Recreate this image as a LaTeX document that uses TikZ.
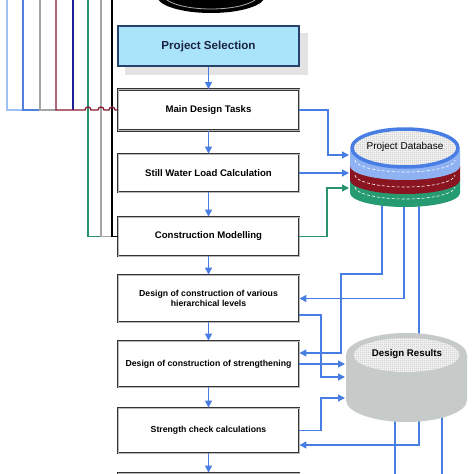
\documentclass[tikz,border=0pt]{standalone}
\usepackage{fontspec}
\setmainfont{Liberation Sans}
\usetikzlibrary{arrows.meta,patterns.meta}
\definecolor{cblue}{RGB}{72,126,228}
\definecolor{lblue}{RGB}{158,192,242}
\definecolor{mblue}{RGB}{80,128,224}
\definecolor{lgray}{RGB}{165,165,165}
\definecolor{dred}{RGB}{135,26,46}
\definecolor{dnavy}{RGB}{30,30,150}
\definecolor{cgreen}{RGB}{40,145,112}
\definecolor{psfill}{RGB}{170,228,251}
\definecolor{psdraw}{RGB}{40,66,110}
\definecolor{pstext}{RGB}{26,36,64}
\definecolor{dbl}{RGB}{143,178,242}
\definecolor{dbr}{RGB}{138,20,32}
\definecolor{dbg}{RGB}{38,155,114}
\definecolor{drgray}{RGB}{198,203,202}
\tikzdeclarepattern{name=fdots, type=uncolored,
  bounding box={(0pt,0pt) and (2.2pt,2.2pt)}, tile size={(2.2pt,2.2pt)},
  code={\fill (1.1pt,1.1pt) circle[radius=0.5pt];}}
\begin{document}
\begin{tikzpicture}[x=1pt,y=-1pt,
  box/.style={draw=black!80, double=gray!55, double distance=0.7pt, line width=0.9pt,
    fill=white, minimum width=181pt, inner sep=0pt, align=center,
    font=\bfseries\fontsize{8.7}{10.5}\selectfont},
  bigtext/.style={font=\bfseries\fontsize{9.6}{11}\selectfont},
  bl/.style={draw=cblue, line width=1.3pt},
  barr/.style={bl, -{Triangle[length=7pt,width=7pt]}},
  garr/.style={draw=cgreen, line width=1.3pt, -{Triangle[length=7pt,width=7pt]}},
  lline/.style={line width=1.1pt},
  jdot/.style={fill=cblue},
  dbdash/.style={draw=white, line width=0.6pt, dash pattern=on 3pt off 2pt},
  dotfill/.style={preaction={fill=gray!10}, pattern=fdots, pattern color=black!55}]
\clip (0,0) rectangle (474,474);
\fill[white] (0,0) rectangle (474,474);

% top disk
\fill[black] (211,-4) ellipse[x radius=54pt, y radius=17pt];
\draw[gray!65, line width=0.8pt] (211,-6) ellipse[x radius=48pt, y radius=15pt];

% project selection shadow + box
\fill[gray!22] (125,33) rectangle (308,75);
\node[draw=psdraw, line width=1.4pt, fill=psfill, minimum width=181pt, minimum height=40pt,
  text=pstext, font=\bfseries\fontsize{11.6}{13}\selectfont] (ps) at (208.5,46) {Project Selection};

% process boxes
\node[box, bigtext, minimum height=41pt] (mdt) at (208.5,110) {Main Design Tasks};
\node[box, bigtext, minimum height=38pt] (sw) at (208.5,173) {Still Water Load Calculation};
\node[box, bigtext, minimum height=39pt] (cm) at (208.5,236.5) {Construction Modelling};
\node[box, minimum height=47pt] (dh) at (208.5,298.5) {Design of construction of various\\hierarchical levels};
\node[box, minimum height=46pt] (ds) at (208.5,364) {Design of construction of strengthening};
\node[box, minimum height=45pt] (sc) at (208.5,430.5) {Strength check calculations};
\node[box, minimum height=48pt] (last) at (208.5,497) {};

% vertical flow arrows
\draw[barr] (ps.south) -- (mdt.north);
\draw[barr] (mdt.south) -- (sw.north);
\draw[barr] (sw.south) -- (cm.north);
\draw[barr] (cm.south) -- (dh.north);
\draw[barr] (dh.south) -- (ds.north);
\draw[barr] (ds.south) -- (sc.north);
\draw[barr] (sc.south) -- (last.north);

% left feedback lines
\coordinate (t1) at (7,0);
\coordinate (t2) at (23,0);
\coordinate (t3) at (40,0);
\coordinate (t4) at (56,0);
\coordinate (t5) at (73,0);
\coordinate (t6) at (88,0);
\coordinate (t7) at (101,0);
\coordinate (t8) at (112,0);
\draw[lline, lblue] (t1) |- (23,110);
\draw[lline, mblue] (t2) |- (40,110);
\draw[lline, lgray] (t3) |- (56,110);
\draw[lline, cgreen] (t6) |- (101,236.5);
\draw[lline, lgray] (t7) |- (112,236.5);
\draw[line width=1.8pt, black] (t8) |- (cm.west);
\draw[lline, dnavy] (t5) -- (73,110);
\draw[line width=1.3pt, dred] (t4) -- (56,110) -- (85,110)
  arc[start angle=180, end angle=0, radius=3pt] -- (98,110)
  arc[start angle=180, end angle=0, radius=3pt] -- (109,110)
  arc[start angle=180, end angle=0, radius=3pt] -- (mdt.west);

% database connection points
\coordinate (dbA) at (349,155);
\coordinate (dbB) at (349,173);
\coordinate (dbC) at (349,188);
\coordinate (dbD) at (382,200);
\coordinate (dbE) at (404,200);
\coordinate (dbF) at (419,200);
\coordinate (drA) at (345,377);
\coordinate (drB) at (345,364);
\coordinate (drC) at (345,398);
\coordinate (drD) at (419,415);
\coordinate (drE) at (395,415);
\coordinate (drF) at (442,415);
\coordinate (bE) at (395,474);
\coordinate (bF) at (442,474);
\coordinate (drT) at (419,340);

% arrows into project database
\draw[barr] (mdt.east) -- (328,110) |- (dbA);
\draw[barr] (sw.east) -- (dbB);
\draw[garr] (cm.east) -- (327,236.5) |- (dbC);

% lines out of project database
\draw[barr] (dbD) -- (382,274) -- (341,274) |- ([yshift=11pt]ds.east);
\draw[barr] (dbE) |- (dh.east);
\draw[bl] (dbF) -- (drT);
\fill[jdot] (341,298.5) circle[radius=1.7pt];

% arrows into design results
\draw[barr] ([yshift=-16.5pt]dh.east) -- (321,315) |- (drA);
\draw[barr] (ds.east) -- (drB);
\draw[barr] (sc.east) -- (321,430.5) |- (drC);
\fill[jdot] (321,353) circle[radius=1.7pt];

% lines out of design results
\draw[barr] (drD) |- ([yshift=-14.5pt]sc.east);
\draw[bl] (drE) -- (bE);
\draw[bl] (drF) -- (bF);
\fill[jdot] (395,445) circle[radius=1.7pt];

% project database stack
\fill[dbg] (350,180) -- (350,193) arc[start angle=180, end angle=360, x radius=55pt, y radius=14pt] -- (460,180) -- cycle;
\draw[dbdash] (355,187) arc[start angle=180, end angle=360, x radius=50pt, y radius=12pt];
\fill[dbr] (350,166) -- (350,180) arc[start angle=180, end angle=360, x radius=55pt, y radius=14pt] -- (460,166) -- cycle;
\draw[dbdash] (355,175) arc[start angle=180, end angle=360, x radius=50pt, y radius=12pt];
\fill[dbl] (350,150) -- (350,166) arc[start angle=180, end angle=360, x radius=55pt, y radius=14pt] -- (460,150) -- cycle;
\draw[dbdash] (355,160) arc[start angle=180, end angle=360, x radius=50pt, y radius=12pt];
\draw[cblue, line width=3.5pt, dotfill] (405,148) ellipse[x radius=53pt, y radius=19pt];
\node[font=\fontsize{10}{12}\selectfont] (pdb) at (405,147) {Project Database};

% design results cylinder
\fill[drgray] (346,355) -- (346,400) arc[start angle=180, end angle=360, x radius=60.5pt, y radius=22pt]
  -- (467,355) arc[start angle=0, end angle=180, x radius=60.5pt, y radius=22pt] -- cycle;
\fill[dotfill] (406.5,355) ellipse[x radius=53pt, y radius=17pt];
\node[font=\bfseries\fontsize{9.7}{12}\selectfont] (dr) at (407,354) {Design Results};
\end{tikzpicture}
\end{document}
